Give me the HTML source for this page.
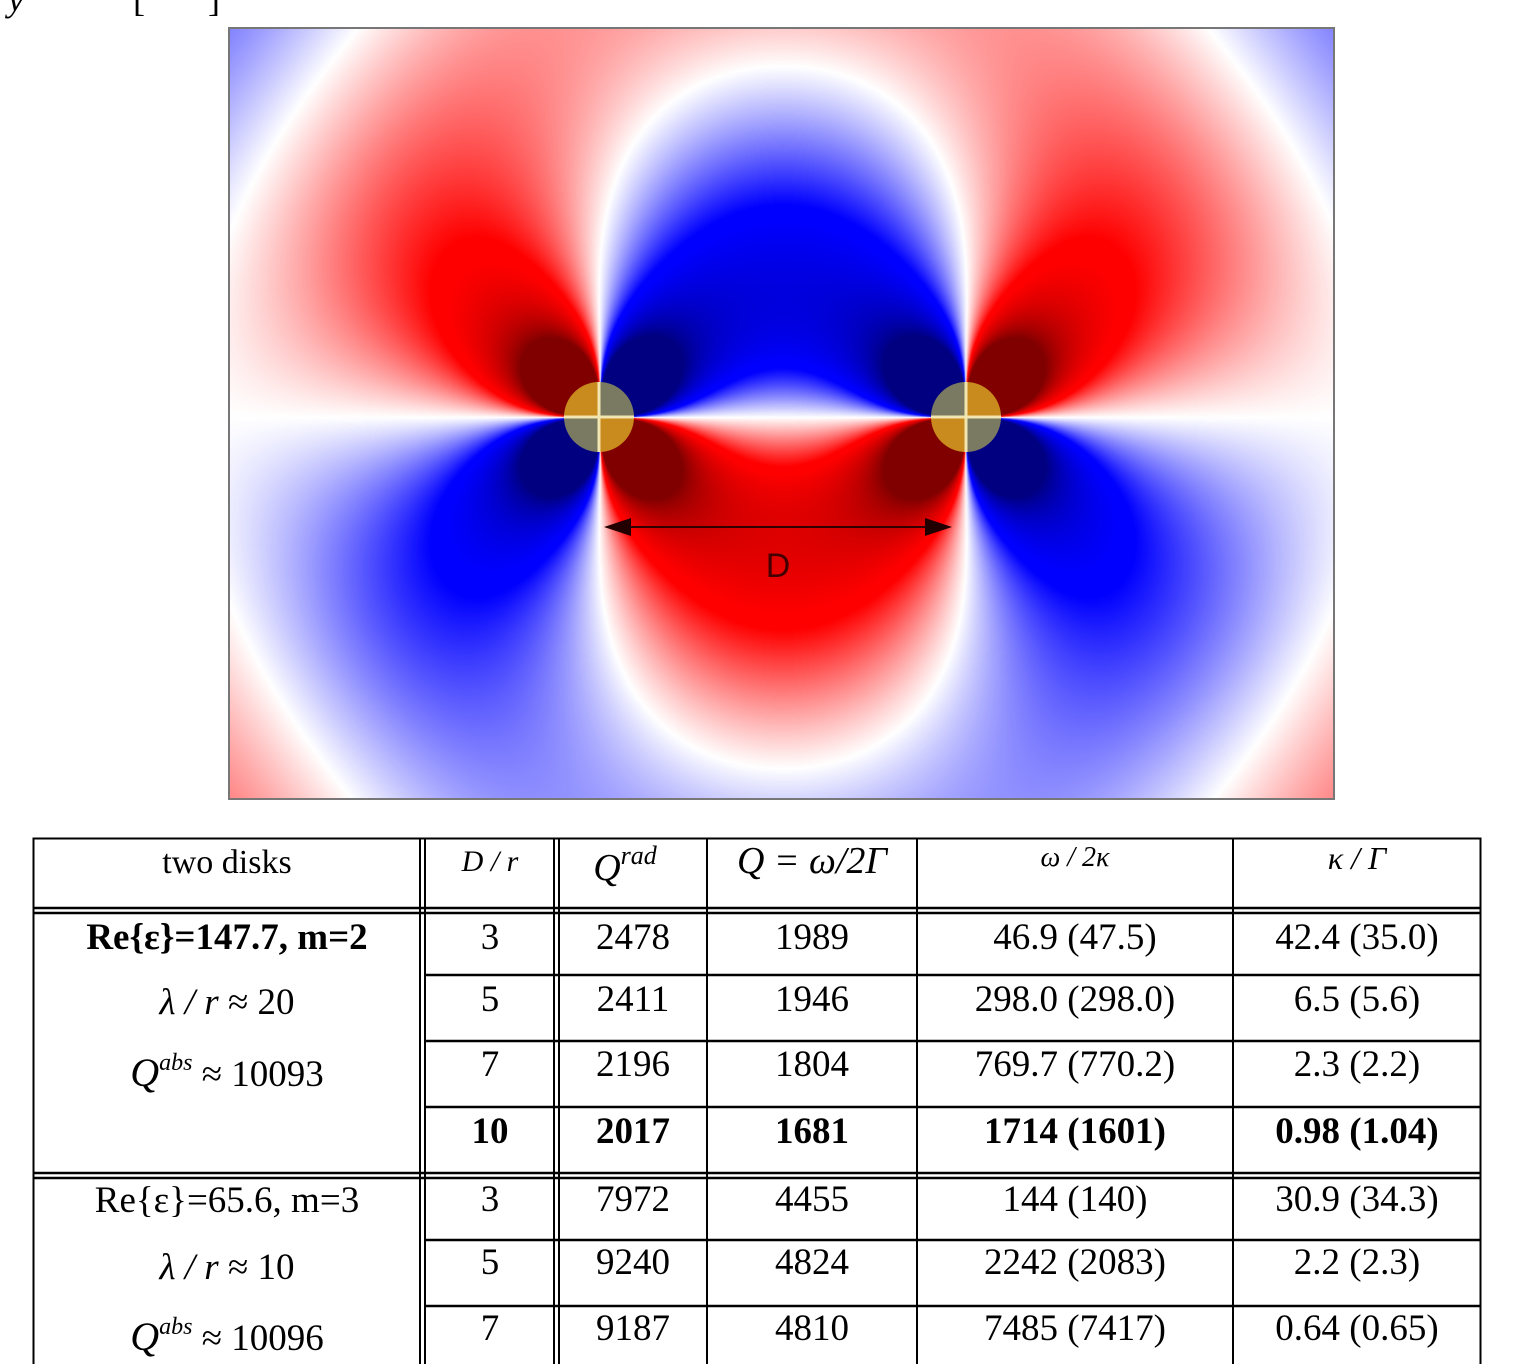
<!DOCTYPE html>
<html><head><meta charset="utf-8">
<style>
html,body{margin:0;padding:0;background:#fff;width:1531px;height:1364px;overflow:hidden;position:relative;font-family:"Liberation Serif",serif;}
#field{position:absolute;left:228px;top:27px;width:1107px;height:773px;border:2px solid #777;box-sizing:border-box;}
svg{position:absolute;left:0;top:0;}
</style></head><body>
<div style="position:absolute;left:8px;top:-22px;font-size:36px;font-style:italic;">y <span style="font-style:normal;margin-left:100px">[&nbsp;&nbsp;&nbsp;&nbsp;&nbsp;&nbsp;&nbsp;]</span></div>
<canvas id="field" width="1107" height="773"></canvas>
<svg width="1531" height="1364">
  <g>
    <path d="M599,417 L564,417 A35,35 0 0 1 599,382 Z" fill="#c98a1e"/>
    <path d="M599,417 L599,382 A35,35 0 0 1 634,417 Z" fill="#7a7a62"/>
    <path d="M599,417 L634,417 A35,35 0 0 1 599,452 Z" fill="#c98a1e"/>
    <path d="M599,417 L599,452 A35,35 0 0 1 564,417 Z" fill="#7a7a62"/>
    <path d="M564,417 H634 M599,382 V452" stroke="#f2e6b0" stroke-width="3"/>
  </g>
  <g>
    <path d="M966,417 L931,417 A35,35 0 0 1 966,382 Z" fill="#7a7a62"/>
    <path d="M966,417 L966,382 A35,35 0 0 1 1001,417 Z" fill="#c98a1e"/>
    <path d="M966,417 L1001,417 A35,35 0 0 1 966,452 Z" fill="#7a7a62"/>
    <path d="M966,417 L966,452 A35,35 0 0 1 931,417 Z" fill="#c98a1e"/>
    <path d="M931,417 H1001 M966,382 V452" stroke="#f2e6b0" stroke-width="3"/>
  </g>
  <g>
    <line x1="625" y1="527" x2="930" y2="527" stroke="#300" stroke-width="2"/>
    <polygon points="604,527 631,518 631,536" fill="#200"/>
    <polygon points="952,527 925,518 925,536" fill="#200"/>
  </g>
  <text x="778" y="577" font-family="Liberation Sans" font-size="34" text-anchor="middle" fill="#400">D</text>

  <g stroke="#000" fill="none">
    <rect x="33.5" y="838.5" width="1447" height="540" stroke-width="2"/>
    <line x1="420" y1="838" x2="420" y2="1364" stroke-width="2"/>
    <line x1="425" y1="838" x2="425" y2="1364" stroke-width="2"/>
    <line x1="554" y1="838" x2="554" y2="1364" stroke-width="2"/>
    <line x1="559" y1="838" x2="559" y2="1364" stroke-width="2"/>
    <line x1="707" y1="838" x2="707" y2="1364" stroke-width="2"/>
    <line x1="917" y1="838" x2="917" y2="1364" stroke-width="2"/>
    <line x1="1233" y1="838" x2="1233" y2="1364" stroke-width="2"/>
    <line x1="33" y1="908" x2="1481" y2="908" stroke-width="2.5"/>
    <line x1="33" y1="913" x2="1481" y2="913" stroke-width="2.5"/>
    <line x1="425" y1="975" x2="1481" y2="975" stroke-width="2.5"/>
    <line x1="425" y1="1041" x2="1481" y2="1041" stroke-width="2.5"/>
    <line x1="425" y1="1107" x2="1481" y2="1107" stroke-width="2.5"/>
    <line x1="33" y1="1173" x2="1481" y2="1173" stroke-width="2.5"/>
    <line x1="33" y1="1178" x2="1481" y2="1178" stroke-width="2.5"/>
    <line x1="425" y1="1240" x2="1481" y2="1240" stroke-width="2.5"/>
    <line x1="425" y1="1306" x2="1481" y2="1306" stroke-width="2.5"/>
  </g>
  <g font-size="34" text-anchor="middle">
    <text x="227" y="873">two disks</text>
    <text x="490" y="871" font-style="italic" font-size="30">D / r</text>
    <text x="625" y="880" font-style="italic" font-size="38">Q<tspan font-size="26" dy="-16">rad</tspan></text>
    <text x="812" y="873" font-style="italic" font-size="38">Q = ω/2Γ</text>
    <text x="1075" y="866" font-style="italic" font-size="28">ω / 2κ</text>
    <text x="1357" y="869" font-style="italic" font-size="32">κ / Γ</text>
  </g>
  <g font-size="37" text-anchor="middle">
    <text x="227" y="949" font-weight="bold">Re{ε}=147.7, m=2</text>
    <text x="227" y="1014"><tspan font-style="italic">λ / r</tspan> ≈ 20</text>
    <text x="227" y="1086"><tspan font-style="italic" font-size="40">Q</tspan><tspan font-style="italic" font-size="24" dy="-16">abs</tspan><tspan dy="16"> ≈ 10093</tspan></text>
  </g>
  <g font-size="37" text-anchor="middle">
    <text x="227" y="1212">Re{ε}=65.6, m=3</text>
    <text x="227" y="1279"><tspan font-style="italic">λ / r</tspan> ≈ 10</text>
    <text x="227" y="1350"><tspan font-style="italic" font-size="40">Q</tspan><tspan font-style="italic" font-size="24" dy="-16">abs</tspan><tspan dy="16"> ≈ 10096</tspan></text>
  </g>
  <g id="rows" font-size="37" text-anchor="middle"></g>
</svg>
<script>
const rowDr=["3","5","7","10","3","5","7"];
const rowQrad=["2478","2411","2196","2017","7972","9240","9187"];
const rowQ=["1989","1946","1804","1681","4455","4824","4810"];
const rowW2k=["46.9 (47.5)","298.0 (298.0)","769.7 (770.2)","1714 (1601)","144 (140)","2242 (2083)","7485 (7417)"];
const rowKG=["42.4 (35.0)","6.5 (5.6)","2.3 (2.2)","0.98 (1.04)","30.9 (34.3)","2.2 (2.3)","0.64 (0.65)"];
const rowBold=[false,false,false,true,false,false,false];
const rowY=[949,1011,1076,1143,1211,1274,1340];
const colX=[490,633,812,1075,1357];
const NS='http://www.w3.org/2000/svg';
const g=document.getElementById('rows');
for(let i=0;i<rowDr.length;i++){
  const vals=[rowDr[i],rowQrad[i],rowQ[i],rowW2k[i],rowKG[i]];
  for(let j=0;j<5;j++){
    const t=document.createElementNS(NS,'text');
    
    
    t.setAttribute('x',colX[j]);t.setAttribute('y',rowY[i]);
    if(rowBold[i])t.setAttribute('font-weight','bold');
    t.textContent=vals[j];g.appendChild(t);
  }
}
function j0(x){const ax=Math.abs(x);if(ax<8){const y=x*x;return (57568490574.0+y*(-13362590354.0+y*(651619640.7+y*(-11214424.18+y*(77392.33017+y*(-184.9052456))))))/(57568490411.0+y*(1029532985.0+y*(9494680.718+y*(59272.64853+y*(267.8532712+y)))));}const z=8/ax,y=z*z,xx=ax-0.785398164;return Math.sqrt(0.636619772/ax)*(Math.cos(xx)*(1+y*(-0.1098628627e-2+y*(0.2734510407e-4+y*(-0.2073370639e-5+y*0.2093887211e-6))))-z*Math.sin(xx)*(-0.1562499995e-1+y*(0.1430488765e-3+y*(-0.6911147651e-5+y*(0.7621095161e-6-y*0.934935152e-7)))));}
function j1(x){const ax=Math.abs(x);if(ax<8){const y=x*x;return x*(72362614232.0+y*(-7895059235.0+y*(242396853.1+y*(-2972611.439+y*(15704.48260+y*(-30.16036606))))))/(144725228442.0+y*(2300535178.0+y*(18583304.74+y*(99447.43394+y*(376.9991397+y)))));}const z=8/ax,y=z*z,xx=ax-2.356194491;const a=Math.sqrt(0.636619772/ax)*(Math.cos(xx)*(1+y*(0.183105e-2+y*(-0.3516396496e-4+y*(0.2457520174e-5+y*(-0.240337019e-6)))))-z*Math.sin(xx)*(0.04687499995+y*(-0.2002690873e-3+y*(0.8449199096e-5+y*(-0.88228987e-6+y*0.105787412e-6)))));return x<0?-a:a;}
function y0(x){if(x<8){const y=x*x;return (-2957821389.0+y*(7062834065.0+y*(-512359803.6+y*(10879881.29+y*(-86327.92757+y*228.4622733)))))/(40076544269.0+y*(745249964.8+y*(7189466.438+y*(47447.26470+y*(226.1030244+y)))))+0.636619772*j0(x)*Math.log(x);}const z=8/x,y=z*z,xx=x-0.785398164;return Math.sqrt(0.636619772/x)*(Math.sin(xx)*(1+y*(-0.1098628627e-2+y*(0.2734510407e-4+y*(-0.2073370639e-5+y*0.2093887211e-6))))+z*Math.cos(xx)*(-0.1562499995e-1+y*(0.1430488765e-3+y*(-0.6911147651e-5+y*(0.7621095161e-6-y*0.934935152e-7)))));}
function y1(x){if(x<8){const y=x*x;return x*(-0.4900604943e13+y*(0.1275274390e13+y*(-0.5153438139e11+y*(0.7349264551e9+y*(-0.4237922726e7+y*0.8511937935e4)))))/(0.2499580570e14+y*(0.4244419664e12+y*(0.3733650367e10+y*(0.2245904002e8+y*(0.1020426050e6+y*(0.3549632885e3+y))))))+0.636619772*(j1(x)*Math.log(x)-1/x);}const z=8/x,y=z*z,xx=x-2.356194491;return Math.sqrt(0.636619772/x)*(Math.sin(xx)*(1+y*(0.183105e-2+y*(-0.3516396496e-4+y*(0.2457520174e-5+y*(-0.240337019e-6)))))+z*Math.cos(xx)*(0.04687499995+y*(-0.2002690873e-3+y*(0.8449199096e-5+y*(-0.88228987e-6+y*0.105787412e-6)))));}
function Y2(x){return 2/x*y1(x)-y0(x);}
const cv=document.getElementById('field'),ctx=cv.getContext('2d');
const W=cv.width,H=cv.height,img=ctx.createImageData(W,H),d=img.data;
const k=0.0085,disks=[[599-228,417-27,-1],[966-228,417-27,1]];
for(let py=0;py<H;py++)for(let px=0;px<W;px++){
  let f=0;
  for(const [cx,cy,s] of disks){
    const dx=px-cx,dy=-(py-cy);let r=Math.hypot(dx,dy);if(r<20)r=20;
    const th=Math.atan2(dy,dx);
    f+=s*Math.sin(2*th)*(-Y2(k*r));
  }
  const a=Math.abs(f);
  const t1=Math.min(a/0.85,1);
  const light=Math.round(255*(1-t1));
  let dark=255;
  if(a>0.95){const t2=Math.min((a-0.95)/1.2,1);dark=Math.round(255-127*t2);}
  let R,G,B;
  if(f>0){R=dark;G=light;B=light;}else{R=light;G=light;B=dark;}
  const i=(py*W+px)*4;d[i]=R;d[i+1]=G;d[i+2]=B;d[i+3]=255;
}
ctx.putImageData(img,0,0);
</script>
</body></html>
